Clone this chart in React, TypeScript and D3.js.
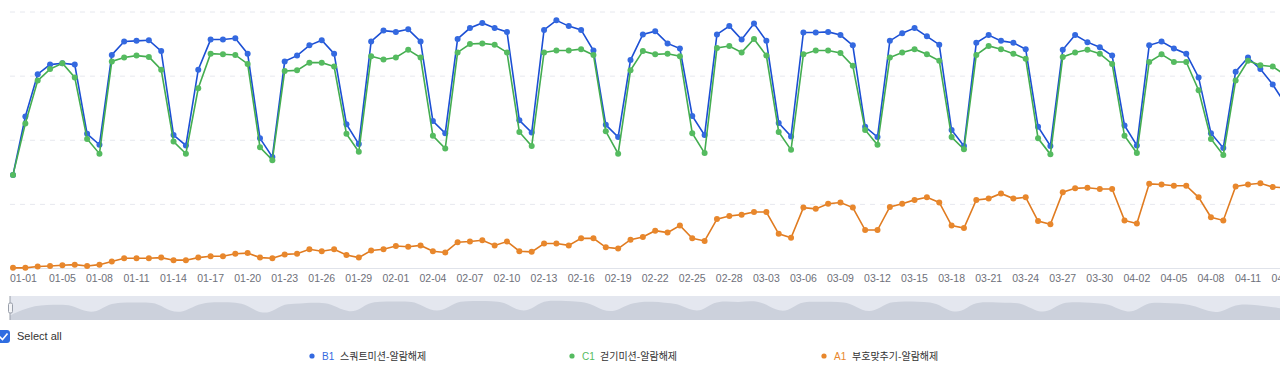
import * as d3 from "d3";

// daily categories, 2023-01-01 .. 2023-04-14
const dates = d3
  .timeDays(new Date(2023, 0, 1), new Date(2023, 3, 15))
  .map(d3.timeFormat("%m-%d"));

const tickLabels = [
  "01-01", "01-05", "01-08", "01-11", "01-14", "01-17", "01-20", "01-23", "01-26", "01-29",
  "02-01", "02-04", "02-07", "02-10", "02-13", "02-16", "02-19", "02-22", "02-25", "02-28",
  "03-03", "03-06", "03-09", "03-12", "03-15", "03-18", "03-21", "03-24", "03-27", "03-30",
  "04-02", "04-05", "04-08", "04-11", "04-14",
];

const gridValues = [0, 100, 200, 300, 400];

const squatValues = [
  146, 237, 303, 318, 320, 318, 210, 193, 333, 354,
  355, 356, 339, 208, 192, 310, 357, 357, 359, 335,
  203, 174, 323, 332, 348, 356, 335, 225, 194, 354,
  371, 369, 373, 354, 230, 211, 358, 375, 383, 375,
  369, 231, 212, 372, 387, 378, 372, 340, 224, 205,
  325, 365, 370, 351, 343, 238, 208, 365, 378, 357,
  382, 355, 227, 206, 368, 368, 369, 364, 348, 221,
  205, 355, 367, 375, 362, 349, 216, 191, 352, 364,
  355, 352, 342, 221, 191, 341, 364, 353, 345, 332,
  223, 192, 348, 354, 343, 335, 298, 211, 188, 307,
  329, 311, 287, 257,
];

const walkValues = [
  146, 226, 293, 311, 320, 298, 202, 179, 323, 329,
  332, 330, 310, 198, 179, 281, 335, 334, 333, 319,
  189, 169, 308, 309, 321, 321, 315, 210, 182, 331,
  326, 329, 341, 329, 207, 187, 337, 350, 351, 349,
  337, 213, 191, 337, 340, 340, 342, 333, 214, 179,
  309, 339, 334, 335, 331, 211, 180, 344, 347, 337,
  358, 332, 213, 185, 334, 340, 340, 336, 316, 216,
  193, 329, 337, 342, 334, 324, 205, 186, 333, 347,
  342, 335, 327, 203, 178, 330, 337, 341, 335, 319,
  207, 180, 322, 334, 322, 322, 278, 202, 177, 293,
  324, 317, 315, 302,
];

const signValues = [
  1, 1, 3, 4, 5, 6, 4, 6, 11, 16,
  16, 16, 17, 13, 13, 17, 19, 19, 23, 24,
  17, 16, 22, 23, 30, 27, 30, 21, 17, 28,
  30, 35, 34, 36, 27, 25, 41, 42, 44, 36,
  42, 27, 26, 39, 39, 36, 47, 47, 33, 31,
  45, 49, 59, 56, 67, 47, 43, 77, 82, 84,
  88, 88, 54, 48, 95, 93, 101, 103, 95, 60,
  60, 96, 101, 107, 111, 103, 67, 63, 107, 109,
  117, 109, 111, 74, 69, 119, 125, 126, 124, 124,
  75, 70, 132, 131, 129, 129, 111, 80, 75, 128,
  131, 133, 127, 126,
];

const series = [
  { code: "B1", name: "스쿼트미션-알람해제", line: "#1c4fd4", dot: "#3469e0", values: squatValues },
  { code: "C1", name: "걷기미션-알람해제", line: "#44ad50", dot: "#55bb60", values: walkValues },
  { code: "A1", name: "부호맞추기-알람해제", line: "#e07b20", dot: "#e8872c", values: signValues },
];

const legendX = [312, 572, 824];

const W = 1280;
const H = 367;
const sansFont = "'Helvetica Neue', Arial, 'Liberation Sans', sans-serif";
const krFont = "'Noto Sans CJK KR', 'Noto Sans', sans-serif";

export default function App() {
  const x = d3.scalePoint<string>().domain(dates).range([13, 13 + 12.35 * (dates.length - 1)]);
  const y = d3.scaleLinear().domain([0, 400]).range([268.5, 12]);

  const line = d3
    .line<number>()
    .x((_, i) => x(dates[i])!)
    .y((d) => y(d));

  // dataZoom slider: shadow of the first series
  const sTop = 296;
  const sBottom = 320;
  const xs = d3.scalePoint<string>().domain(dates).range([10, 10 + 12.35 * (dates.length - 1)]);
  const [mn, mx] = d3.extent(squatValues) as [number, number];
  const pad = (mx - mn) * 0.3;
  const ys = d3.scaleLinear().domain([mn - pad, mx + pad]).range([sBottom, sTop]);
  const shadow = d3
    .area<number>()
    .curve(d3.curveBasis)
    .x((_, i) => xs(dates[i])!)
    .y0(sBottom)
    .y1((d) => ys(d));

  return (
    <svg
      width={W}
      height={H}
      style={{ position: "absolute", left: 0, top: 0, background: "#fff" }}
    >
      {/* grid */}
      {gridValues.map((v) => (
        <line
          key={v}
          x1={10}
          x2={W}
          y1={y(v)}
          y2={y(v)}
          stroke={v === 0 ? "#e0e3ea" : "#e6e8ee"}
          strokeWidth={1}
          strokeDasharray={v === 0 ? undefined : "5 5"}
        />
      ))}

      {/* x labels (first one is pushed inside the plot) */}
      {tickLabels.map((t, i) => (
        <text
          key={t}
          x={i === 0 ? 10 : x(t)}
          y={281.5}
          textAnchor={i === 0 ? "start" : "middle"}
          fontSize={10.5}
          fontFamily={sansFont}
          fill="#6e7079"
        >
          {t}
        </text>
      ))}

      {/* series */}
      {series.map((s) => (
        <g key={s.code}>
          <path d={line(s.values)!} fill="none" stroke={s.line} strokeWidth={1.6} />
          {s.values.map((v, i) => (
            <circle key={i} cx={x(dates[i])} cy={y(v)} r={3} fill={s.dot} />
          ))}
        </g>
      ))}

      {/* slider */}
      <rect x={10} y={sTop} width={W} height={sBottom - sTop} fill="#e4e7ef" />
      <path d={shadow(squatValues)!} fill="#ccd1dc" />
      <line x1={10} x2={10} y1={sTop} y2={sBottom} stroke="#9aa0ab" strokeWidth={1} />
      <rect x={8.5} y={303} width={4} height={10} rx={1.5} fill="#f3f4f7" stroke="#9aa0ab" strokeWidth={1} />

      {/* select all */}
      <rect x={-3} y={330} width={13} height={13} rx={3} fill="#2f6de1" />
      <path d="M-0.5 336.5 L2.5 339.5 L7.5 333.5" fill="none" stroke="#fff" strokeWidth={1.6} />
      <text x={17} y={340} fontSize={11} fontFamily={sansFont} fill="#333">
        Select all
      </text>

      {/* legend */}
      {series.map((s, i) => (
        <g key={s.code} transform={`translate(${legendX[i]},356)`}>
          <circle cx={0} cy={0} r={2.6} fill={s.dot} />
          <text x={10} y={3.6} fontSize={10} fontFamily={sansFont} fill={s.dot}>
            {s.code}
          </text>
          <text x={28} y={3.8} fontSize={10} fontFamily={krFont} fill="#333">
            {s.name}
          </text>
        </g>
      ))}
    </svg>
  );
}
